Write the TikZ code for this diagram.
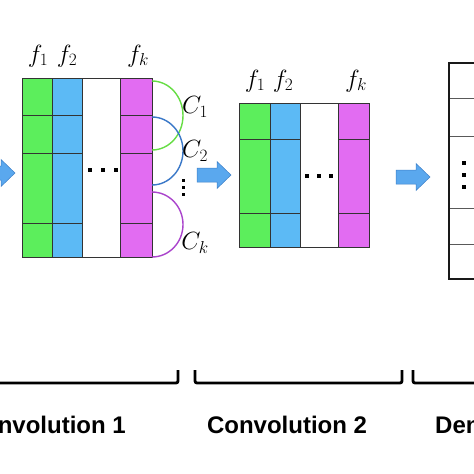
\documentclass[tikz,border=0pt]{standalone}
\usepackage{fontspec}
\newfontfamily\labfont{Liberation Sans}
\definecolor{cgreen}{HTML}{5CEE5C}
\definecolor{cblue}{HTML}{5CBAF5}
\definecolor{cmag}{HTML}{E26CF2}
\definecolor{carrow}{HTML}{5AA8EE}
\definecolor{carrowline}{HTML}{3F80C8}
\definecolor{agreen}{HTML}{66DD44}
\definecolor{ablue}{HTML}{3A78C8}
\definecolor{apurple}{HTML}{AA44CC}
\tikzset{
  cell/.style={draw=black!80, line width=0.9pt},
  rowline/.style={draw=black!80, line width=0.9pt},
  blockthree/.style={draw=black!90, line width=1.6pt},
  arcline/.style={line width=1.4pt},
  brace/.style={draw=black, line width=2.8pt, rounded corners=2pt},
  lab/.style={font=\labfont\bfseries\fontsize{24}{26}\selectfont, inner sep=0pt},
  mlab/.style={font=\fontsize{23}{25}\selectfont, inner sep=0pt},
  dot/.style={fill=black},
  blockarrow/.pic={
    \fill[carrow, draw=carrowline, line width=0.5pt]
      (-34,7) -- (-14,7) -- (-14,13.5) -- (0,0) -- (-14,-13.5) -- (-14,-7) -- (-34,-7) -- cycle;
  }
}
\begin{document}
\begin{tikzpicture}[x=1pt,y=1pt]
\useasboundingbox (0,0) rectangle (474,-474);
\clip (0,0) rectangle (474,-474);
\fill[white] (0,0) rectangle (474,-474);

% left arrow (partly cut off)
\pic at (15,-173) {blockarrow};

% ---- block 1 ----
\fill[cgreen] (22,-78) rectangle (52,-257);
\fill[cblue] (52,-78) rectangle (82,-257);
\fill[white] (82,-78) rectangle (120,-257);
\fill[cmag] (120,-78) rectangle (152,-257);
\foreach \y in {115,153,223} {
  \draw[rowline] (22,-\y) -- (82,-\y);
  \draw[rowline] (120,-\y) -- (152,-\y);
}
\foreach \x in {52,82,120} \draw[cell] (\x,-78) -- (\x,-257);
\draw[cell] (22,-78) rectangle (152,-257);
\foreach \x in {90,103,116} \fill[dot] (\x-2,-168) rectangle (\x+2,-172);

\node[mlab] (f11) at (38,-56) {$f_1$};
\node[mlab] (f12) at (67,-56) {$f_2$};
\node[mlab] (f1k) at (138,-56) {$f_k$};

% arcs
\draw[agreen, arcline] (152,-81) arc[start angle=90, end angle=-90, x radius=31, y radius=34.5];
\draw[ablue, arcline] (152,-117) arc[start angle=90, end angle=-90, x radius=31, y radius=34];
\draw[apurple, arcline] (152,-192) arc[start angle=90, end angle=-90, x radius=31, y radius=32.5];
\node[mlab] (c1) at (195,-107) {$C_1$};
\node[mlab] (c2) at (195,-151) {$C_2$};
\node[mlab] (ck) at (195,-243) {$C_k$};
\foreach \y in {180,187,194} \fill[dot] (182,-\y+1.5) rectangle (185,-\y-1.5);

% arrow 2
\pic at (231,-175) {blockarrow};

% ---- block 2 ----
\fill[cgreen] (239,-103) rectangle (270,-247);
\fill[cblue] (270,-103) rectangle (300,-247);
\fill[white] (300,-103) rectangle (338,-247);
\fill[cmag] (338,-103) rectangle (369,-247);
\foreach \y in {139,213} {
  \draw[rowline] (239,-\y) -- (300,-\y);
  \draw[rowline] (338,-\y) -- (369,-\y);
}
\foreach \x in {270,300,338} \draw[cell] (\x,-103) -- (\x,-247);
\draw[cell] (239,-103) rectangle (369,-247);
\foreach \x in {307,319,331} \fill[dot] (\x-2,-174) rectangle (\x+2,-178);

\node[mlab] (f21) at (255,-81) {$f_1$};
\node[mlab] (f22) at (283,-81) {$f_2$};
\node[mlab] (f2k) at (356,-81) {$f_k$};

% arrow 3
\pic at (430,-177) {blockarrow};

% ---- block 3 ----
\foreach \y in {98,136,208,244} \draw[draw=black!65, line width=1pt] (449,-\y) -- (490,-\y);
\draw[blockthree] (449,-63) rectangle (495,-279);
\foreach \y in {163,175,187} \fill[dot] (462,-\y+2) rectangle (466,-\y-2);

% ---- braces ----
\draw[brace] (-10,-383) -- (178,-383) -- (178,-370);
\draw[brace] (195,-370) -- (195,-383) -- (402,-383) -- (402,-370);
\draw[brace] (413,-370) -- (413,-383) -- (495,-383);

\node[lab, anchor=east] (l1) at (126,-425) {Convolution 1};
\node[lab] (l2) at (287,-425) {Convolution 2};
\node[lab, anchor=west] (l3) at (435,-425) {Dense};
\end{tikzpicture}
\end{document}
